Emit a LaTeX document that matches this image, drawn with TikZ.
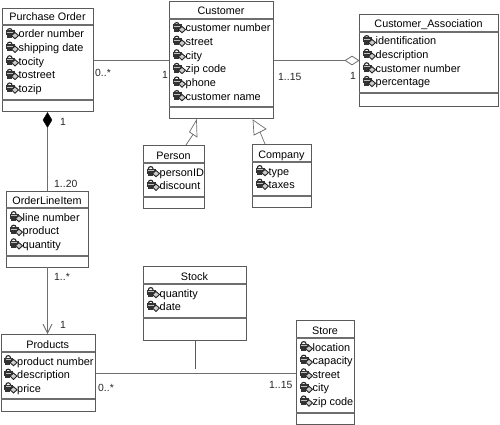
\documentclass[tikz,border=0pt]{standalone}
\usepackage{fontspec}
\setmainfont{Liberation Sans}
\usetikzlibrary{shapes.geometric,arrows.meta}
\definecolor{edgeC}{HTML}{5A5A5A}
\definecolor{lineC}{HTML}{6E6E6E}
\tikzset{
  classbox/.style={draw=edgeC,line width=1pt,anchor=north west,inner sep=0pt,fill=white},
  divider/.style={draw=lineC,line width=1.2pt},
  link/.style={draw=lineC,line width=1pt},
  classtitle/.style={font=\fontsize{10.8}{12}\selectfont,text=black,inner sep=0pt,anchor=base},
  attrtext/.style={font=\fontsize{10.9}{12}\selectfont,text=black,inner sep=0pt,anchor=base west},
  mult/.style={font=\fontsize{10.4}{12}\selectfont,text=black!85,inner sep=0pt,anchor=base west},
  lockicon/.pic={
    \draw[black!85,line width=1.1pt] (1.8,-3) .. controls (1.8,-6.2) and (6.6,-6.2) .. (6.6,-3);
    \fill[black!80] (0,-3.5) rectangle (9,1.5);
    \fill[black!80] (1,1.5) rectangle (6,3.8);
    \fill[black!25] (1.5,-1.8) rectangle (7,-0.9);
    \draw[black!85,fill=black!20,line width=0.9pt] (9.5,-1.5) -- (13,1.5) -- (9.5,4.8) -- (6,1.5) -- cycle;
  }
}
% name, x, y, w, h, divider1, divider2, title, attributes
\newcommand{\umlclass}[9]{%
  \node[classbox,minimum width=#4pt,minimum height=#5pt] (#1) at (#2,#3) {};
  \draw[divider] (#2,#6) -- (#2+#4,#6);
  \draw[divider] (#2,#7) -- (#2+#4,#7);
  \node[classtitle] (#1-t) at (#2+#4/2,#6-4) {#8};
  \foreach \t [count=\i from 0] in {#9} {
    \pic at (#2+3.5,#6+9+13.6*\i) {lockicon};
    \node[attrtext] (#1-\i) at (#2+16.5,#6+13+13.6*\i) {\t};
  }
}
\begin{document}
\begin{tikzpicture}[x=1pt,y=-1pt]
\useasboundingbox (0,0) rectangle (500,425);
\umlclass{po}{2}{8}{91}{103}{25}{100}{Purchase Order}{order number,shipping date,tocity,tostreet,tozip}
\umlclass{cu}{169}{1}{104}{117}{19}{107}{Customer}{customer number,street,city,zip code,phone,customer name}
\umlclass{pe}{143}{145}{61}{63}{163}{197}{Person}{personID,discount}
\umlclass{co}{252}{144}{59}{63}{162}{196}{Company}{type,taxes}
\umlclass{ca}{359}{14}{139}{92}{32}{93}{Customer\_Association}{identification,description,customer number,percentage}
\umlclass{ol}{6}{191}{82}{76}{208}{256}{OrderLineItem}{line number,product,quantity}
\umlclass{pr}{0.5}{334}{94.5}{77}{352}{399}{Products}{product number,description,price}
\umlclass{sk}{143}{266}{103}{74}{284}{318}{Stock}{quantity,date}
\umlclass{st}{296}{320}{58}{104}{338}{413}{Store}{location,capacity,street,city,zip code}
% associations
\coordinate (rowA) at (0,60.5);
\coordinate (rowB) at (0,373.5);
\draw[link] (po.east|-rowA) -- (cu.west|-rowA);
\node[draw=lineC,fill=white,diamond,aspect=1,inner sep=0pt,minimum width=14pt,minimum height=9pt,line width=0.8pt] (agg) at (352,60.5) {};
\draw[link] (cu.east|-rowA) -- (agg.west);
\node[draw=black,fill=black,diamond,aspect=1,inner sep=0pt,minimum width=9pt,minimum height=15pt] (comp) at (47.5,120) {};
\coordinate (olTop) at (47.5,191);
\draw[link] (comp.south) -- (olTop);
\coordinate (olBot) at (47.5,267);
\coordinate (prTop) at (47.5,334);
\draw[link,-{Straight Barb[length=9pt,width=9pt,line width=0.8pt]}] (olBot) -- (prTop);
\draw[link] (pr.east|-rowB) -- (st.west|-rowB);
\coordinate (skBot) at (195.5,340);
\coordinate (skEnd) at (195.5,369);
\draw[draw=edgeC,line width=0.9pt] (skBot) -- (skEnd);
% generalisations
\coordinate (peTip) at (196.5,120);
\coordinate (peA) at (189.5,132);
\coordinate (peB) at (197,137);
\coordinate (peM) at (193,134.5);
\coordinate (peFoot) at (186,145);
\draw[link,line width=0.7pt] (peTip) -- (peA) -- (peB) -- cycle;
\draw[link,line width=0.7pt] (peM) -- (peFoot);
\coordinate (coTip) at (253,120);
\coordinate (coA) at (254,135);
\coordinate (coB) at (266,129);
\coordinate (coM) at (260,132);
\coordinate (coFoot) at (265,144);
\draw[link,line width=0.7pt] (coTip) -- (coA) -- (coB) -- cycle;
\draw[link,line width=0.7pt] (coM) -- (coFoot);
% multiplicities
\node[mult] (m1) at (95,77) {0..*};
\node[mult] (m2) at (162,79) {1};
\node[mult] (m3) at (278,81) {1..15};
\node[mult] (m4) at (350,80) {1};
\node[mult] (m5) at (60,125) {1};
\node[mult] (m6) at (54,187) {1..20};
\node[mult] (m7) at (54,280) {1..*};
\node[mult] (m8) at (60,328) {1};
\node[mult] (m9) at (98,391) {0..*};
\node[mult] (m10) at (269,388) {1..15};
\end{tikzpicture}
\end{document}
